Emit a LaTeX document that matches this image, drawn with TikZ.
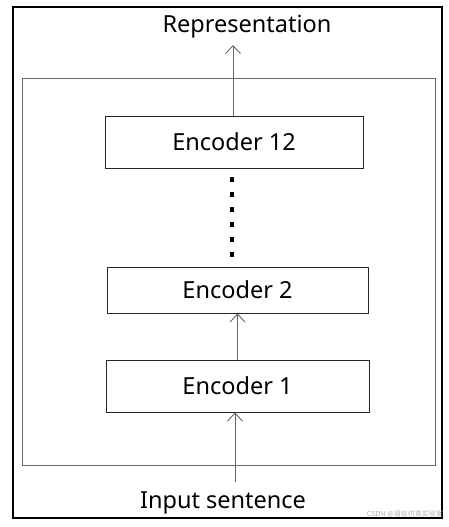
\documentclass[tikz,border=0pt]{standalone}
\usepackage{fontspec}
\setmainfont{Noto Sans}
\newfontfamily\cjk{Noto Sans CJK SC}
\usetikzlibrary{arrows.meta,calc}
\begin{document}
\begin{tikzpicture}[x=1pt,y=-1pt,
  encbox/.style={draw=black!85,line width=0.8pt,inner sep=0pt,font=\fontsize{23.5}{26}\selectfont},
  lbl/.style={inner sep=0pt,font=\fontsize{23.5}{26}\selectfont},
  arr/.style={draw=black!60,line width=0.9pt,-{Straight Barb[length=8pt,width=15pt]}}]
\useasboundingbox (0,0) rectangle (449,527);
\fill[white] (0,0) rectangle (449,527);
\draw[black,line width=2.2pt] (13,7) rectangle (442,518);
\draw[black!60,line width=1pt] (22,78) rectangle (435,465);
\node[encbox,minimum width=258pt,minimum height=52pt] (e12) at (234,142) {Encoder 12};
\node[encbox,minimum width=261pt,minimum height=46pt] (e2) at (237.5,290) {Encoder 2};
\node[encbox,minimum width=263pt,minimum height=52pt] (e1) at (237.5,386) {Encoder 1};
\node[lbl] (rep) at (247,27) {Representation};
\node[lbl] (inp) at (223,503) {Input sentence};
\node[anchor=east,inner sep=0pt,text=black!30,font=\fontsize{7}{8}\selectfont] (wm) at (443,514) {CSDN @{\cjk 通信仿真实验室}};
\coordinate (repend) at (233,45);
\coordinate (inpstart) at (235,482);
\draw[arr] (e12.north -| repend) -- (repend);
\draw[arr] (e1.north) -- (e2.south);
\draw[arr] (inpstart) -- (e1.south -| inpstart);
\draw[black,line width=3.5pt,dash pattern=on 5pt off 10pt] ([xshift=-2pt,yshift=-9pt]e12.south) -- ([xshift=-2pt,yshift=7pt]e12.south |- e2.north);
\end{tikzpicture}
\end{document}
